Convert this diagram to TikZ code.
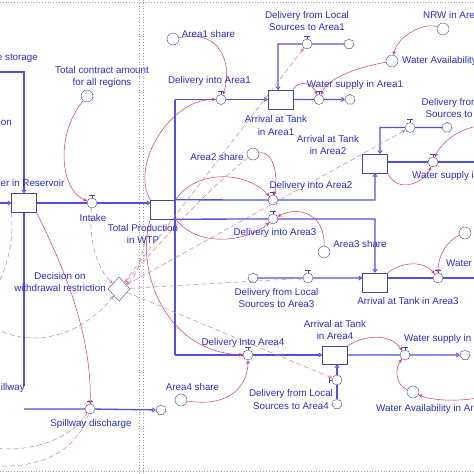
\documentclass[tikz,border=0pt]{standalone}
\usepackage{fontspec}
\setmainfont{Liberation Sans}
\usetikzlibrary{arrows.meta,shapes.geometric,shapes.symbols}

\definecolor{pipeblue}{RGB}{80,80,225}
\definecolor{txtblue}{RGB}{45,45,205}
\definecolor{boxline}{RGB}{70,70,150}
\definecolor{linkpink}{RGB}{215,55,125}
\definecolor{dashpink}{RGB}{220,125,165}
\definecolor{framegray}{RGB}{165,165,165}

\begin{document}
\begin{tikzpicture}[x=1pt,y=-1pt,
    lbl/.style={text=txtblue,font=\fontsize{9.8}{12.5}\selectfont,align=center,inner sep=0pt},
    stock/.style={draw=boxline,fill=white,minimum width=25pt,minimum height=19pt,inner sep=0pt},
    valve/.style={circle,draw=boxline,fill=white,minimum size=10pt,inner sep=0pt},
    aux/.style={circle,draw=boxline,fill=white,minimum size=12pt,inner sep=0pt},
    sink/.style={cloud,cloud puffs=7,draw=boxline,fill=white,minimum size=10.5pt,inner sep=0pt},
    pipe/.style={draw=pipeblue,line width=1.3pt},
    flowin/.style={pipe,-{Triangle[open,length=3.5pt,width=5pt]}},
    link/.style={draw=linkpink,line width=0.5pt,-{Stealth[length=4pt,width=3.5pt]}},
    dlink/.style={link,draw=dashpink,dash pattern=on 5pt off 3pt},
    handle/.style={draw=boxline,line width=0.8pt}]

    \useasboundingbox (0,0) rectangle (474,474);
    \clip (0,0) rectangle (474,474);
    \fill[white] (0,0) rectangle (474,474);

    \draw[framegray,dotted,line width=0.8pt] (0,2) -- (474,2);
    \draw[framegray,dotted,line width=0.8pt] (0,471.5) -- (474,471.5);
    \draw[framegray,dotted,line width=0.8pt] (139.5,0) -- (139.5,474);
    \draw[framegray,dotted,line width=0.8pt] (143,0) -- (143,474);

    % stocks
    \node[stock] (res) at (24,203) {};
    \node[stock] (wtp) at (163,209.5) {};
    \node[stock] (tank1) at (280.5,99.5) {};
    \node[stock] (tank2) at (375,163.5) {};
    \node[stock] (tank3) at (375,282.5) {};
    \node[stock,minimum height=18pt] (tank4) at (335,355) {};

    % valves
    \node[valve] (intake) at (92,203) {};
    \node[valve] (del1) at (221,99.5) {};
    \node[valve] (del2) at (273,200) {};
    \node[valve] (del3) at (273,219) {};
    \node[valve] (del4) at (248,355) {};
    \node[valve] (local1) at (307,44) {};
    \node[valve] (local2) at (410,127.5) {};
    \node[valve] (local3) at (308,278) {};
    \node[valve] (local4) at (337,380) {};
    \node[valve] (supply1) at (319,99.5) {};
    \node[valve] (supply2) at (433,162) {};
    \node[valve] (supply3) at (438,278) {};
    \node[valve] (supply4) at (405,355) {};
    \node[valve] (spill) at (90,409) {};

    % clouds
    \node[sink] (src1) at (349,44) {};
    \node[sink] (snk1) at (350,99.5) {};
    \node[sink] (src2) at (447,127.5) {};
    \node[sink] (src3) at (253,278) {};
    \node[sink] (src4) at (337,404) {};
    \node[sink] (snk4) at (465,355) {};
    \node[sink] (snkspill) at (161,410) {};

    % auxiliaries
    \node[aux] (contract) at (87,96) {};
    \node[aux] (share1) at (173,39) {};
    \node[aux] (share2) at (253,154) {};
    \node[aux] (share3) at (324,252) {};
    \node[aux] (share4) at (181,400) {};
    \node[aux] (avail1) at (392,61) {};
    \node[aux] (nrw1) at (443,29) {};
    \node[aux] (avail3) at (465,233) {};
    \node[aux] (avail4) at (413,392) {};
    \node[diamond,draw=boxline,fill=white,minimum width=22pt,minimum height=24pt,inner sep=0pt] (decision) at (119,289) {};

    \coordinate (inlet) at (-5,72);
    \coordinate (inleft) at (-5,203);
    \coordinate (outdown) at (24,386);
    \coordinate (spillin) at (24,409);
    \coordinate (out2) at (480,162);
    \coordinate (out3) at (480,278);
    \coordinate (avail2) at (478,126);
    \coordinate (avail4r) at (478,398);
    \coordinate (resout) at (-5,290);
    \coordinate (leftin) at (-5,328);
    \coordinate (spillout1) at (-5,448);
    \coordinate (spillout2) at (-5,466);

    % flows
    \draw[flowin] (inlet) -- (24,72) -- (res);
    \draw[flowin] (inleft) -- (res);
    \draw[pipe] (res) -- (outdown);
    \draw[flowin] (res) -- (intake) -- (intake -| wtp.west);
    \draw[pipe] (175,99.5) -- (175,355);
    \draw[flowin] (175,99.5) -- (del1) -- (tank1);
    \draw[flowin] (wtp.north east) -- (del2) -- (375,200) -- (tank2);
    \draw[flowin] (wtp.south east) -- (del3) -- (375,219) -- (tank3);
    \draw[flowin] (175,355) -- (del4) -- (tank4);
    \draw[flowin] (src1) -- (local1) -- (278,44) -- (278,90);
    \draw[flowin] (src2) -- (local2) -- (380,127.5) -- (380,154);
    \draw[flowin] (src3) -- (local3) -- (local3 -| tank3.west);
    \draw[flowin] (src4) -- (local4) -- (local4 |- tank4.south);
    \draw[flowin] (tank1) -- (supply1) -- (snk1);
    \draw[pipe] (tank2.east |- supply2) -- (supply2) -- (out2);
    \draw[pipe] (tank3.east |- supply3) -- (supply3) -- (out3);
    \draw[flowin] (tank4) -- (supply4) -- (snk4);
    \draw[flowin] (spillin) -- (spill) -- (snkspill);

    \foreach \v in {intake,del1,del2,del3,del4,local1,local2,local3,supply1,supply2,supply3,supply4,spill}
        \draw[handle] (\v.north) -- ++(0,-2.5) ++(-3,0) -- ++(6,0);
    \draw[handle] (local4.west) -- ++(-2.5,0) ++(0,-3) -- ++(0,6);

    % links
    \draw[link] (contract) .. controls (55,135) and (60,190) .. (intake);
    \draw[link] (res.south east) .. controls (60,260) and (92,330) .. (spill);
    \draw[link] (share1) .. controls (225,28) and (232,70) .. (del1);
    \draw[link] (wtp.north west) .. controls (130,165) and (170,99) .. (del1);
    \draw[link] (share2) .. controls (275,150) and (278,180) .. (del2);
    \draw[link] (wtp.north east) .. controls (195,170) and (245,170) .. (del2);
    \draw[link] (wtp.south east) .. controls (200,250) and (250,240) .. (del3);
    \draw[link] (share3) .. controls (325,215) and (300,205) .. (del3);
    \draw[link] (wtp.south west) .. controls (135,270) and (165,352) .. (del4);
    \draw[link] (share4) .. controls (230,408) and (248,385) .. (del4);
    \draw[link] (tank1.north east) .. controls (298,80) and (312,82) .. (supply1);
    \draw[link] (avail1) .. controls (355,68) and (328,78) .. (supply1);
    \draw[link] (nrw1) .. controls (425,22) and (398,35) .. (avail1);
    \draw[link] (tank2.south east) .. controls (398,195) and (425,182) .. (supply2);
    \draw[link] (avail2) .. controls (455,130) and (440,145) .. (supply2);
    \draw[link] (tank3.north east) .. controls (405,260) and (425,262) .. (supply3);
    \draw[link] (avail3) .. controls (448,240) and (438,255) .. (supply3);
    \draw[link] (tank4.north east) .. controls (368,333) and (392,335) .. (supply4);
    \draw[link] (avail4) .. controls (395,385) and (395,368) .. (supply4);
    \draw[link] (avail4r) .. controls (455,402) and (430,400) .. (avail4);

    \draw[dlink] (decision) -- (local1);
    \draw[dlink] (decision) -- (local2);
    \draw[dlink] (decision) -- (local3);
    \draw[dlink] (decision) -- (local4);
    \draw[dlink] (intake) .. controls (88,245) and (100,272) .. (decision);
    \draw[dlink] (share2) .. controls (200,195) and (150,255) .. (decision);
    \draw[dlink] (wtp.south west) .. controls (142,250) and (140,275) .. (decision);
    \draw[dlink] (res.south west) .. controls (14,240) and (8,265) .. (resout);
    \draw[dlink] (leftin) .. controls (30,348) and (80,338) .. (decision);
    \draw[dlink] (spill) .. controls (70,440) and (30,452) .. (spillout1);
    \draw[dlink] (spill) .. controls (78,448) and (45,468) .. (spillout2);

    % labels
    \node[lbl,anchor=east] (storagelbl) at (38,58) {e storage};
    \node[lbl,anchor=east] (ionlbl) at (12,122) {ion};
    \node[lbl] (reslbl) at (24,183) {Water in Reservoir};
    \node[lbl] (contractlbl) at (102,77) {Total contract amount\\for all regions};
    \node[lbl] (intakelbl) at (93,218) {Intake};
    \node[lbl] (wtplbl) at (143,234) {Total Production\\in WTP};
    \node[lbl] (decisionlbl) at (60,282) {Decision on\\withdrawal restriction};
    \node[lbl,anchor=east] (spillwaylbl) at (25,388) {illway};
    \node[lbl] (spilllbl) at (91,424) {Spillway discharge};
    \node[lbl] (share1lbl) at (208.5,34) {Area1 share};
    \node[lbl] (del1lbl) at (209.5,81) {Delivery into Area1};
    \node[lbl] (local1lbl) at (307,21) {Delivery from Local\\Sources to Area1};
    \node[lbl] (tank1lbl) at (276,125.5) {Arrival at Tank\\in Area1};
    \node[lbl] (supply1lbl) at (355,85) {Water supply in Area1};
    \node[lbl,anchor=west] (avail1lbl) at (402,61) {Water Availability in Area1};
    \node[lbl,anchor=west] (nrw1lbl) at (423,15) {NRW in Area1};
    \node[lbl] (share2lbl) at (217,157) {Area2 share};
    \node[lbl] (del2lbl) at (311,186) {Delivery into Area2};
    \node[lbl] (tank2lbl) at (328,145) {Arrival at Tank\\in Area2};
    \node[lbl] (local2lbl) at (463.5,108) {Delivery from Local\\Sources to Area2};
    \node[lbl,anchor=west] (supply2lbl) at (412,176) {Water supply in Area2};
    \node[lbl] (del3lbl) at (275,233) {Delivery into Area3};
    \node[lbl] (share3lbl) at (360,244) {Area3 share};
    \node[lbl] (local3lbl) at (276.5,298) {Delivery from Local\\Sources to Area3};
    \node[lbl] (tank3lbl) at (408,301) {Arrival at Tank in Area3};
    \node[lbl,anchor=west] (supply3lbl) at (446,264) {Water supply in Area3};
    \node[lbl] (del4lbl) at (243,343) {Delivery into Area4};
    \node[lbl] (share4lbl) at (192.5,387) {Area4 share};
    \node[lbl] (tank4lbl) at (335,330) {Arrival at Tank\\in Area4};
    \node[lbl] (local4lbl) at (291,399.5) {Delivery from Local\\Sources to Area4};
    \node[lbl,anchor=west] (supply4lbl) at (404,339) {Water supply in Area4};
    \node[lbl,anchor=west] (avail4lbl) at (376,409) {Water Availability in Area4};
\end{tikzpicture}
\end{document}
